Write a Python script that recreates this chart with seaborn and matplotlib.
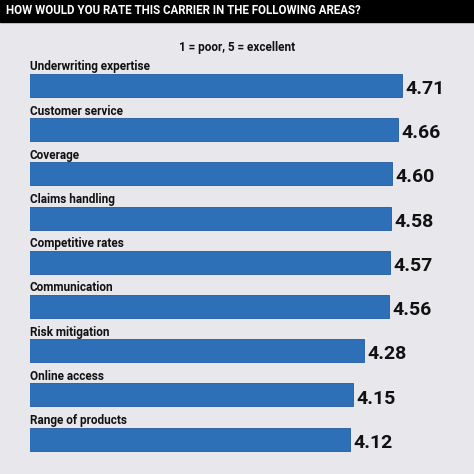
import matplotlib
matplotlib.use('Agg')
import matplotlib.pyplot as plt
import seaborn as sns
import pandas as pd

categories = ["Underwriting expertise", "Customer service", "Coverage", "Claims handling",
              "Competitive rates", "Communication", "Risk mitigation", "Online access",
              "Range of products"]
scores = [4.71, 4.66, 4.60, 4.58, 4.57, 4.56, 4.28, 4.15, 4.12]

sns.set_theme(style='white')
plt.rcParams['font.family'] = ['Liberation Sans Narrow', 'Roboto', 'DejaVu Sans']

bg = '#e8e8ec'
fig = plt.figure(figsize=(4.74, 4.74), dpi=100, facecolor=bg)
ax = fig.add_axes([30 / 474, 1 - 461.3 / 474, 1 - 30 / 474, (461.3 - 63.4) / 474])
ax.set_facecolor(bg)

df = pd.DataFrame({'cat': categories, 'score': scores})
sns.barplot(data=df, y='cat', x='score', orient='h', color='#2e70b8', width=0.52,
            edgecolor='#1f5a9c', linewidth=0.6, saturation=1, ax=ax)
x0 = 0.483
ax.set_xlim(x0, x0 + 444 / 88)
ax.set_ylim(8.5, -0.5)
for i, (c, v) in enumerate(zip(categories, scores)):
    ax.text(x0, i - 0.42, c, ha='left', va='center', fontsize=8.5, fontweight='bold', color='#111')
    ax.text(v + 0.04, i + 0.08, f"{v:.2f}", ha='left', va='center', fontsize=14,
            fontweight='bold', color='#111')
ax.axis('off')

# header
fig.patches.append(plt.Rectangle((0, 1 - 22 / 474), 1, 22 / 474, transform=fig.transFigure,
                                 color='black', zorder=0))
fig.text(6 / 474, 1 - 11 / 474, "HOW WOULD YOU RATE THIS CARRIER IN THE FOLLOWING AREAS?",
         color='white', fontsize=8.3, fontweight='bold', va='center', ha='left')
fig.text(0.5, 1 - 47 / 474, "1 = poor, 5 = excellent", color='#111', fontsize=8.5,
         fontweight='bold', va='center', ha='center')

fig.savefig('out.png', dpi=100, facecolor=bg)
